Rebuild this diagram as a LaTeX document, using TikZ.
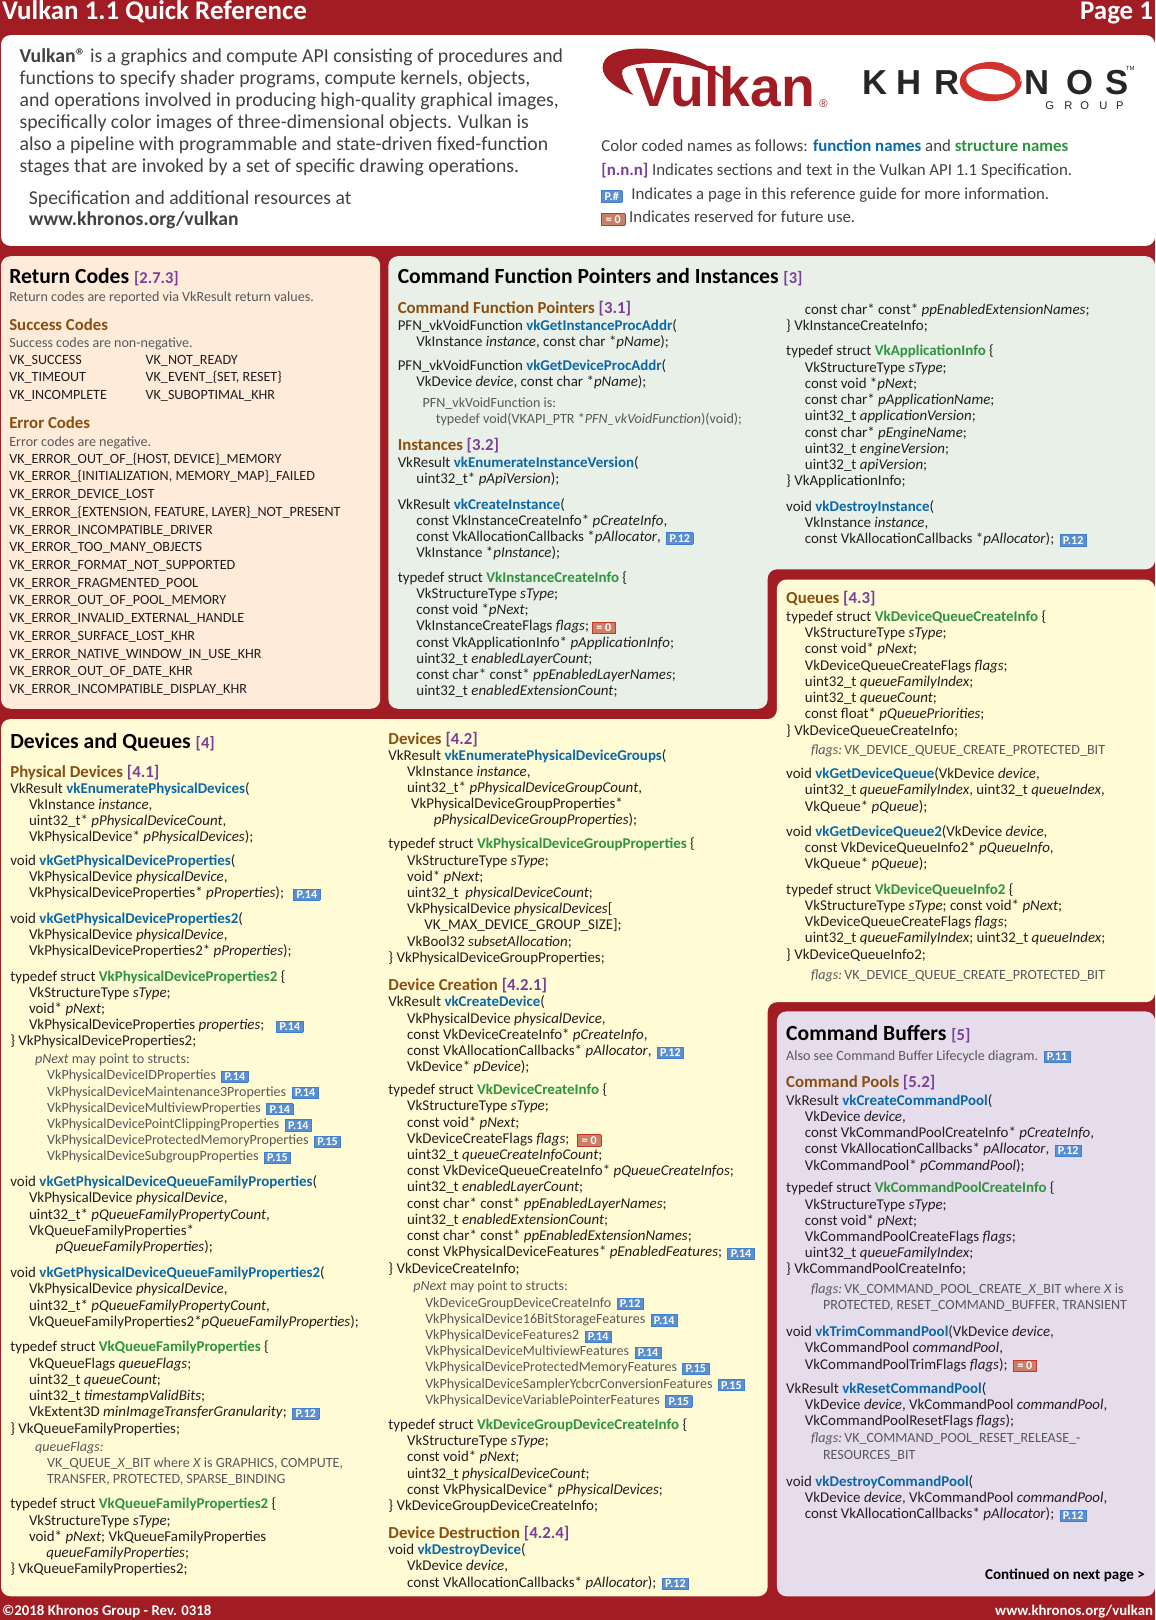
\documentclass[tikz,border=0pt]{standalone}
\usepackage{fontspec}
\setmainfont{Carlito}
\newfontfamily\logofont{Liberation Sans}
\usepackage{tikz}
\definecolor{bandcol}{HTML}{A21C24}
\definecolor{peachcol}{HTML}{FEEBD9}
\definecolor{greencol}{HTML}{E9F0E8}
\definecolor{yellowcol}{HTML}{FFFBD5}
\definecolor{purplecol}{HTML}{E5DDEC}
\definecolor{bodycol}{HTML}{231F20}
\definecolor{notecol}{HTML}{58595B}
\definecolor{fncol}{HTML}{0A68A8}
\definecolor{stcol}{HTML}{2E9440}
\definecolor{refcol}{HTML}{7B3F98}
\definecolor{headcol}{HTML}{8A4F10}
\definecolor{pgfill}{HTML}{5B8FD0}
\definecolor{pgedge}{HTML}{3F7FCC}
\definecolor{rsvfill}{HTML}{CB7F68}
\definecolor{rsvedge}{HTML}{C0392B}
\definecolor{khrcol}{HTML}{D2322D}
\newcommand{\fname}[1]{\textbf{\textcolor{fncol}{#1}}}
\newcommand{\sname}[1]{\textbf{\textcolor{stcol}{#1}}}
\newcommand{\secref}[1]{\textbf{\textcolor{refcol}{[#1]}}}
\newcommand{\indt}{\hspace*{14pt}}
\newcommand{\pgbadge}[1]{\raisebox{-0.6pt}[0pt][0pt]{\setlength{\fboxsep}{1pt}\setlength{\fboxrule}{0.5pt}\fcolorbox{pgedge}{pgfill}{\fontsize{9}{9}\selectfont\bfseries\color{white}\kern1pt P.#1\kern1pt}}}
\newcommand{\rsvbadge}{\raisebox{-0.6pt}[0pt][0pt]{\setlength{\fboxsep}{1pt}\setlength{\fboxrule}{0.5pt}\fcolorbox{rsvedge}{rsvfill}{\fontsize{9}{9}\selectfont\bfseries\color{white}\kern2pt = 0\kern2pt}}}
\newcommand{\pg}[1]{\kern4pt\pgbadge{#1}}
\newcommand{\rsv}{\kern2pt\rsvbadge}
\newcommand{\flagword}{\emph{flags:}\kern-0.8pt\ }

\begin{document}
\begin{tikzpicture}%
        [x=0.7748pt,
        y=0.7748pt,
        every node/.style={inner sep=0pt,outer sep=0pt,text=bodycol},
        panel/.style={rounded corners=7pt},
        codeblock/.style={anchor=north west,align=left,yshift=3.8pt,
            font=\fontsize{11.2}{12.16}\selectfont,execute at begin node=\strut},
        noteblock/.style={codeblock,text=notecol,font=\fontsize{10.55}{12.16}\selectfont},
        errlist/.style={codeblock,font=\fontsize{10.57}{13.28}\selectfont,yshift=-0.3pt},
        heading/.style={anchor=base west,yshift=-5pt,font=\fontsize{12.6}{14}\selectfont\bfseries,text=headcol},
        panelhead/.style={anchor=base west,yshift=-5.6pt,font=\fontsize{16.2}{18}\selectfont\bfseries,text=black},
        intro/.style={codeblock,font=\fontsize{14.8}{16.43}\selectfont,yshift=3.1pt,text=bodycol!85!white},
        legend/.style={anchor=base west,yshift=-3.3pt,font=\fontsize{12.62}{14}\selectfont,text=bodycol!85!white},
        barhead/.style={font=\fontsize{20.2}{22}\selectfont\bfseries,text=white},
        barfoot/.style={font=\fontsize{11.1}{13}\selectfont\bfseries,text=white},
        khrletter/.style={font=\logofont\fontsize{26}{27}\selectfont\bfseries,text=black!85},
        grpletter/.style={font=\logofont\fontsize{8.4}{9}\selectfont,text=black!85}]

    \useasboundingbox (0,0) rectangle (1118,-1568);
    %% Drawing the panels
    \fill[bandcol] (0,0) rectangle (1118,-1568);
    \fill[white,panel] (1,-34) rectangle (1118,-238);
    \fill[peachcol,panel] (1,-248) rectangle (368,-686);
    \fill[greencol,panel] (376,-248) -- (1118,-248) -- (1118,-551) -- (743,-551) -- (743,-686) -- (376,-686) -- cycle;
    \fill[yellowcol,panel] (1,-696) -- (752,-696) -- (752,-561) -- (1118,-561) -- (1118,-970) -- (743,-970) -- (743,-1545) -- (1,-1545) -- cycle;
    \fill[purplecol,panel] (752,-979) rectangle (1118,-1545);
    %%
    %% Header and footer
    %%
    \node[barhead,anchor=base west] (barTitle) at (2,-19) {Vulkan 1.1 Quick Reference};
    \node[barhead,anchor=base east] (barPage) at (1116,-19) {Page 1};
    \node[barfoot,anchor=west] (barRev) at (2,-1560) {©2018 Khronos Group - Rev. 0318};
    \node[barfoot,anchor=east] (barUrl) at (1116,-1560) {www.khronos.org/vulkan};
    %%
    %% Introduction and legend
    %%
    \node[intro] (introText) at (19,-56) {\textbf{Vulkan®} is a graphics and compute API consisting of procedures and\\
functions to specify shader programs, compute kernels, objects,\\
and operations involved in producing high-quality graphical images,\\
specifically color images of three-dimensional objects. Vulkan is\\
also a pipeline with programmable and state-driven fixed-function\\
stages that are invoked by a set of specific drawing operations.};
    \node[intro,font=\fontsize{14.75}{15.5}\selectfont] (introSpec) at (28,-194) {Specification and additional resources at\\
\textbf{www.khronos.org/vulkan}};
    \node[legend] (legendNames) at (582,-142) {Color coded names as follows: \fname{function names} and \sname{structure names}};
    \node[legend] (legendRef) at (582,-166) {\secref{n.n.n} Indicates sections and text in the Vulkan API 1.1 Specification.};
    \node[legend] (legendPage) at (582,-189) {\pgbadge{\#}\kern4pt{} Indicates a page in this reference guide for more information.};
    \node[legend] (legendRsv) at (582,-211) {\rsvbadge{} Indicates reserved for future use.};
    %%
    %% Drawing the logos
    %%
    \node[anchor=base west,font=\logofont\fontsize{41.5}{42}\selectfont\bfseries,text=bandcol] (vulkanWord) at (615,-103) {Vulkan};
    \node[anchor=center,font=\logofont\fontsize{8.5}{9}\selectfont,text=bandcol] (vulkanReg) at (797,-100) {®};
    \fill[bandcol] (613,-92) .. controls (592,-84) and (580,-72) .. (584,-61) .. controls (588,-50) and (605,-47) .. (620,-47)
        .. controls (650,-47) and (685,-58) .. (707,-81) .. controls (695,-72) and (675,-62) .. (650,-61)
        .. controls (625,-60) and (600,-62) .. (602,-71) .. controls (603,-78) and (608,-86) .. (613,-92) -- cycle;
    \node[khrletter] (khrK) at (847,-80) {K};
    \node[khrletter] (khrH) at (880,-80) {H};
    \node[khrletter] (khrR) at (917,-80) {R};
    \node[khrletter] (khrN) at (1004,-80) {N};
    \node[khrletter] (khrO) at (1045,-80) {O};
    \node[khrletter] (khrS) at (1081,-80) {S};
    \node[font=\logofont\fontsize{4.5}{5}\selectfont,text=black!85] (khrTm) at (1094,-66) {TM};
    \fill[khrcol] (959,-79) ellipse [x radius=30,y radius=19];
    \fill[white,rotate around={-8:(959,-79)}] (959,-79) ellipse [x radius=24,y radius=12];
    \draw[white,line width=0.8pt] (972,-62) .. controls (984,-66) and (990,-72) .. (988,-79);
    \draw[white,line width=0.8pt] (929,-88) .. controls (932,-93) and (938,-95) .. (944,-96);
    \node[grpletter] (grpG) at (1016,-102) {G};
    \node[grpletter] (grpR) at (1034,-102) {R};
    \node[grpletter] (grpO) at (1050,-102) {O};
    \node[grpletter] (grpU) at (1068,-102) {U};
    \node[grpletter] (grpP) at (1084,-102) {P};
    %%
    %% Return codes
    %%
    \node[panelhead] (retTitle) at (9,-267) {Return Codes \textcolor{refcol}{\fontsize{12.4}{14}\selectfont [2.7.3]}};
    \node[noteblock] (retNote) at (9,-286) {Return codes are reported via VkResult return values.};
    \node[heading] (succHead) at (9,-313) {Success Codes};
    \node[noteblock] (succNote) at (9,-330) {Success codes are non-negative.};
    \node[errlist] (succLeft) at (9,-348) {VK\_SUCCESS\\
VK\_TIMEOUT\\
VK\_INCOMPLETE};
    \node[errlist] (succRight) at (141,-348) {VK\_NOT\_READY\\
VK\_EVENT\_\{SET, RESET\}\\
VK\_SUBOPTIMAL\_KHR};
    \node[heading] (errHead) at (9,-408) {Error Codes};
    \node[noteblock] (errNote) at (9,-426) {Error codes are negative.};
    \node[errlist] (errList) at (9,-443) {VK\_ERROR\_OUT\_OF\_\{HOST, DEVICE\}\_MEMORY\\
VK\_ERROR\_\{INITIALIZATION, MEMORY\_MAP\}\_FAILED\\
VK\_ERROR\_DEVICE\_LOST\\
VK\_ERROR\_\{EXTENSION, FEATURE, LAYER\}\_NOT\_PRESENT\\
VK\_ERROR\_INCOMPATIBLE\_DRIVER\\
VK\_ERROR\_TOO\_MANY\_OBJECTS\\
VK\_ERROR\_FORMAT\_NOT\_SUPPORTED\\
VK\_ERROR\_FRAGMENTED\_POOL\\
VK\_ERROR\_OUT\_OF\_POOL\_MEMORY\\
VK\_ERROR\_INVALID\_EXTERNAL\_HANDLE\\
VK\_ERROR\_SURFACE\_LOST\_KHR\\
VK\_ERROR\_NATIVE\_WINDOW\_IN\_USE\_KHR\\
VK\_ERROR\_OUT\_OF\_DATE\_KHR\\
VK\_ERROR\_INCOMPATIBLE\_DISPLAY\_KHR};
    %%
    %% Command function pointers and instances
    %%
    \node[panelhead] (cmdTitle) at (385,-267) {Command Function Pointers and Instances \textcolor{refcol}{\fontsize{12.4}{14}\selectfont [3]}};
    \node[heading] (fnptrHead) at (385,-297) {Command Function Pointers \secref{3.1}};
    \node[codeblock] (instProc) at (385,-314) {PFN\_vkVoidFunction \fname{vkGetInstanceProcAddr}(\\
\indt VkInstance \emph{instance}, const char *\emph{pName});};
    \node[codeblock] (devProc) at (385,-353) {PFN\_vkVoidFunction \fname{vkGetDeviceProcAddr}(\\
\indt VkDevice \emph{device}, const char *\emph{pName});};
    \node[noteblock] (pfnNote) at (409,-390) {PFN\_vkVoidFunction is:\\
\hspace*{10pt}typedef void(VKAPI\_PTR *\emph{PFN\_vkVoidFunction})(void);};
    \node[heading] (instHead) at (385,-430) {Instances \secref{3.2}};
    \node[codeblock] (enumInst) at (385,-447) {VkResult \fname{vkEnumerateInstanceVersion}(\\
\indt uint32\_t* \emph{pApiVersion});};
    \node[codeblock] (createInst) at (385,-487) {VkResult \fname{vkCreateInstance}(\\
\indt const VkInstanceCreateInfo* \emph{pCreateInfo},\\
\indt const VkAllocationCallbacks *\emph{pAllocator},\pg{12}\\
\indt VkInstance *\emph{pInstance});};
    \node[codeblock] (instInfo) at (385,-558) {typedef struct \sname{VkInstanceCreateInfo} \{\\
\indt VkStructureType \emph{sType};\\
\indt const void *\emph{pNext};\\
\indt VkInstanceCreateFlags \emph{flags};\rsv\\
\indt const VkApplicationInfo* \emph{pApplicationInfo};\\
\indt uint32\_t \emph{enabledLayerCount};\\
\indt const char* const* \emph{ppEnabledLayerNames};\\
\indt uint32\_t \emph{enabledExtensionCount};};
    \node[codeblock] (instInfoEnd) at (761,-299) {\indt const char* const* \emph{ppEnabledExtensionNames};\\
\} VkInstanceCreateInfo;};
    \node[codeblock] (appInfo) at (761,-339) {typedef struct \sname{VkApplicationInfo} \{\\
\indt VkStructureType \emph{sType};\\
\indt const void *\emph{pNext};\\
\indt const char* \emph{pApplicationName};\\
\indt uint32\_t \emph{applicationVersion};\\
\indt const char* \emph{pEngineName};\\
\indt uint32\_t \emph{engineVersion};\\
\indt uint32\_t \emph{apiVersion};\\
\} VkApplicationInfo;};
    \node[codeblock] (destroyInst) at (761,-489) {void \fname{vkDestroyInstance}(\\
\indt VkInstance \emph{instance},\\
\indt const VkAllocationCallbacks *\emph{pAllocator});\pg{12}};
    %%
    %% Queues
    %%
    \node[heading] (queueHead) at (761,-578) {Queues \secref{4.3}};
    \node[codeblock] (queueCreate) at (761,-596) {typedef struct \sname{VkDeviceQueueCreateInfo} \{\\
\indt VkStructureType \emph{sType};\\
\indt const void* \emph{pNext};\\
\indt VkDeviceQueueCreateFlags \emph{flags};\\
\indt uint32\_t \emph{queueFamilyIndex};\\
\indt uint32\_t \emph{queueCount};\\
\indt const float* \emph{pQueuePriorities};\\
\} VkDeviceQueueCreateInfo;};
    \node[noteblock] (queueFlagsA) at (785,-724) {\flagword VK\_DEVICE\_QUEUE\_CREATE\_PROTECTED\_BIT};
    \node[codeblock] (getQueue) at (761,-748) {void \fname{vkGetDeviceQueue}(VkDevice \emph{device},\\
\indt uint32\_t \emph{queueFamilyIndex}, uint32\_t \emph{queueIndex},\\
\indt VkQueue* \emph{pQueue});};
    \node[codeblock] (getQueueTwo) at (761,-804) {void \fname{vkGetDeviceQueue2}(VkDevice \emph{device},\\
\indt const VkDeviceQueueInfo2* \emph{pQueueInfo},\\
\indt VkQueue* \emph{pQueue});};
    \node[codeblock] (queueInfoTwo) at (761,-860) {typedef struct \sname{VkDeviceQueueInfo2} \{\\
\indt VkStructureType \emph{sType}; const void* \emph{pNext};\\
\indt VkDeviceQueueCreateFlags \emph{flags};\\
\indt uint32\_t \emph{queueFamilyIndex}; uint32\_t \emph{queueIndex};\\
\} VkDeviceQueueInfo2;};
    \node[noteblock] (queueFlagsB) at (785,-942) {\flagword VK\_DEVICE\_QUEUE\_CREATE\_PROTECTED\_BIT};
    %%
    %% Command buffers
    %%
    \node[panelhead] (bufTitle) at (761,-1000) {Command Buffers \textcolor{refcol}{\fontsize{12.4}{14}\selectfont [5]}};
    \node[noteblock] (bufNote) at (761,-1020) {Also see Command Buffer Lifecycle diagram.\pg{11}};
    \node[heading] (poolHead) at (761,-1046) {Command Pools \secref{5.2}};
    \node[codeblock] (createPool) at (761,-1064) {VkResult \fname{vkCreateCommandPool}(\\
\indt VkDevice \emph{device},\\
\indt const VkCommandPoolCreateInfo* \emph{pCreateInfo},\\
\indt const VkAllocationCallbacks* \emph{pAllocator},\pg{12}\\
\indt VkCommandPool* \emph{pCommandPool});};
    \node[codeblock] (poolInfo) at (761,-1149) {typedef struct \sname{VkCommandPoolCreateInfo} \{\\
\indt VkStructureType \emph{sType};\\
\indt const void* \emph{pNext};\\
\indt VkCommandPoolCreateFlags \emph{flags};\\
\indt uint32\_t \emph{queueFamilyIndex};\\
\} VkCommandPoolCreateInfo;};
    \node[noteblock] (poolFlags) at (785,-1247) {\flagword VK\_COMMAND\_POOL\_CREATE\_\emph{X}\_BIT where \emph{X} is\\
\hspace*{9pt}PROTECTED, RESET\_COMMAND\_BUFFER, TRANSIENT};
    \node[codeblock] (trimPool) at (761,-1288) {void \fname{vkTrimCommandPool}(VkDevice \emph{device},\\
\indt VkCommandPool \emph{commandPool},\\
\indt VkCommandPoolTrimFlags \emph{flags});\kern2pt\rsv};
    \node[codeblock] (resetPool) at (761,-1343) {VkResult \fname{vkResetCommandPool}(\\
\indt VkDevice \emph{device}, VkCommandPool \emph{commandPool},\\
\indt VkCommandPoolResetFlags \emph{flags});};
    \node[noteblock] (resetFlags) at (785,-1392) {\flagword VK\_COMMAND\_POOL\_RESET\_RELEASE\_-\\
\hspace*{9pt}RESOURCES\_BIT};
    \node[codeblock] (destroyPool) at (761,-1433) {void \fname{vkDestroyCommandPool}(\\
\indt VkDevice \emph{device}, VkCommandPool \emph{commandPool},\\
\indt const VkAllocationCallbacks* \emph{pAllocator});\pg{12}};
    \node[anchor=east,font=\fontsize{11.3}{13}\selectfont\bfseries,text=black] (contNote) at (1108,-1525) {Continued on next page >};
    %%
    %% Devices and queues, first column
    %%
    \node[panelhead] (devTitle) at (10,-717) {Devices and Queues \textcolor{refcol}{\fontsize{12.4}{14}\selectfont [4]}};
    \node[heading] (physHead) at (10,-746) {Physical Devices \secref{4.1}};
    \node[codeblock] (enumPhys) at (10,-762) {VkResult \fname{vkEnumeratePhysicalDevices}(\\
\indt VkInstance \emph{instance},\\
\indt uint32\_t* \emph{pPhysicalDeviceCount},\\
\indt VkPhysicalDevice* \emph{pPhysicalDevices});};
    \node[codeblock] (getProps) at (10,-832) {void \fname{vkGetPhysicalDeviceProperties}(\\
\indt VkPhysicalDevice \emph{physicalDevice},\\
\indt VkPhysicalDeviceProperties* \emph{pProperties});\kern3pt\pg{14}};
    \node[codeblock] (getPropsTwo) at (10,-888) {void \fname{vkGetPhysicalDeviceProperties2}(\\
\indt VkPhysicalDevice \emph{physicalDevice},\\
\indt VkPhysicalDeviceProperties2* \emph{pProperties});};
    \node[codeblock] (propsTwo) at (10,-944) {typedef struct \sname{VkPhysicalDeviceProperties2} \{\\
\indt VkStructureType \emph{sType};\\
\indt void* \emph{pNext};\\
\indt VkPhysicalDeviceProperties \emph{properties};\kern5pt\pg{14}\\
\} VkPhysicalDeviceProperties2;};
    \node[noteblock] (propsNext) at (34,-1025) {\emph{pNext} may point to structs:\\
\hspace*{9pt}VkPhysicalDeviceIDProperties\pg{14}\\
\hspace*{9pt}VkPhysicalDeviceMaintenance3Properties\pg{14}\\
\hspace*{9pt}VkPhysicalDeviceMultiviewProperties\pg{14}\\
\hspace*{9pt}VkPhysicalDevicePointClippingProperties\pg{14}\\
\hspace*{9pt}VkPhysicalDeviceProtectedMemoryProperties\pg{15}\\
\hspace*{9pt}VkPhysicalDeviceSubgroupProperties\pg{15}};
    \node[codeblock] (getFamily) at (10,-1143) {void \fname{vkGetPhysicalDeviceQueueFamilyProperties}(\\
\indt VkPhysicalDevice \emph{physicalDevice},\\
\indt uint32\_t* \emph{pQueueFamilyPropertyCount},\\
\indt VkQueueFamilyProperties*\\
\hspace*{34pt}\emph{pQueueFamilyProperties});};
    \node[codeblock] (getFamilyTwo) at (10,-1231) {void \fname{vkGetPhysicalDeviceQueueFamilyProperties2}(\\
\indt VkPhysicalDevice \emph{physicalDevice},\\
\indt uint32\_t* \emph{pQueueFamilyPropertyCount},\\
\indt VkQueueFamilyProperties2*\emph{pQueueFamilyProperties});};
    \node[codeblock] (familyProps) at (10,-1303) {typedef struct \sname{VkQueueFamilyProperties} \{\\
\indt VkQueueFlags \emph{queueFlags};\\
\indt uint32\_t \emph{queueCount};\\
\indt uint32\_t \emph{timestampValidBits};\\
\indt VkExtent3D \emph{minImageTransferGranularity};\pg{12}\\
\} VkQueueFamilyProperties;};
    \node[noteblock] (familyFlags) at (34,-1400) {\emph{queueFlags:}\\
\hspace*{9pt}VK\_QUEUE\_\emph{X}\_BIT where \emph{X} is GRAPHICS, COMPUTE,\\
\hspace*{9pt}TRANSFER, PROTECTED, SPARSE\_BINDING};
    \node[codeblock] (familyPropsTwo) at (10,-1455) {typedef struct \sname{VkQueueFamilyProperties2} \{\\
\indt VkStructureType \emph{sType};\\
\indt void* \emph{pNext}; VkQueueFamilyProperties\\
\hspace*{27pt}\emph{queueFamilyProperties};\\
\} VkQueueFamilyProperties2;};
    %%
    %% Devices and queues, second column
    %%
    \node[heading] (devHead) at (376,-714) {Devices \secref{4.2}};
    \node[codeblock] (enumGroups) at (376,-730) {VkResult \fname{vkEnumeratePhysicalDeviceGroups}(\\
\indt VkInstance \emph{instance},\\
\indt uint32\_t* \emph{pPhysicalDeviceGroupCount},\\
\hspace*{17pt}VkPhysicalDeviceGroupProperties*\\
\hspace*{34pt}\emph{pPhysicalDeviceGroupProperties});};
    \node[codeblock] (groupProps) at (376,-816) {typedef struct \sname{VkPhysicalDeviceGroupProperties} \{\\
\indt VkStructureType \emph{sType};\\
\indt void* \emph{pNext};\\
\indt uint32\_t \ \emph{physicalDeviceCount};\\
\indt VkPhysicalDevice \emph{physicalDevices}[\\
\hspace*{27pt}VK\_MAX\_DEVICE\_GROUP\_SIZE];\\
\indt VkBool32 \emph{subsetAllocation};\\
\} VkPhysicalDeviceGroupProperties;};
    \node[heading] (createHead) at (376,-952) {Device Creation \secref{4.2.1}};
    \node[codeblock] (createDev) at (376,-969) {VkResult \fname{vkCreateDevice}(\\
\indt VkPhysicalDevice \emph{physicalDevice},\\
\indt const VkDeviceCreateInfo* \emph{pCreateInfo},\\
\indt const VkAllocationCallbacks* \emph{pAllocator},\pg{12}\\
\indt VkDevice* \emph{pDevice});};
    \node[codeblock] (devInfo) at (376,-1054) {typedef struct \sname{VkDeviceCreateInfo} \{\\
\indt VkStructureType \emph{sType};\\
\indt const void* \emph{pNext};\\
\indt VkDeviceCreateFlags \emph{flags};\kern4pt\rsv\\
\indt uint32\_t \emph{queueCreateInfoCount};\\
\indt const VkDeviceQueueCreateInfo* \emph{pQueueCreateInfos};\\
\indt uint32\_t \emph{enabledLayerCount};\\
\indt const char* const* \emph{ppEnabledLayerNames};\\
\indt uint32\_t \emph{enabledExtensionCount};\\
\indt const char* const* \emph{ppEnabledExtensionNames};\\
\indt const VkPhysicalDeviceFeatures* \emph{pEnabledFeatures};\pg{14}\\
\} VkDeviceCreateInfo;};
    \node[noteblock] (devNext) at (400,-1245) {\emph{pNext} may point to structs:\\
\hspace*{9pt}VkDeviceGroupDeviceCreateInfo\pg{12}\\
\hspace*{9pt}VkPhysicalDevice16BitStorageFeatures\pg{14}\\
\hspace*{9pt}VkPhysicalDeviceFeatures2\pg{14}\\
\hspace*{9pt}VkPhysicalDeviceMultiviewFeatures\pg{14}\\
\hspace*{9pt}VkPhysicalDeviceProtectedMemoryFeatures\pg{15}\\
\hspace*{9pt}VkPhysicalDeviceSamplerYcbcrConversionFeatures\pg{15}\\
\hspace*{9pt}VkPhysicalDeviceVariablePointerFeatures\pg{15}};
    \node[codeblock] (groupInfo) at (376,-1378) {typedef struct \sname{VkDeviceGroupDeviceCreateInfo} \{\\
\indt VkStructureType \emph{sType};\\
\indt const void* \emph{pNext};\\
\indt uint32\_t \emph{physicalDeviceCount};\\
\indt const VkPhysicalDevice* \emph{pPhysicalDevices};\\
\} VkDeviceGroupDeviceCreateInfo;};
    \node[heading] (destroyHead) at (376,-1483) {Device Destruction \secref{4.2.4}};
    \node[codeblock] (destroyDev) at (376,-1499) {void \fname{vkDestroyDevice}(\\
\indt VkDevice \emph{device},\\
\indt const VkAllocationCallbacks* \emph{pAllocator});\pg{12}};
\end{tikzpicture}
\end{document}
